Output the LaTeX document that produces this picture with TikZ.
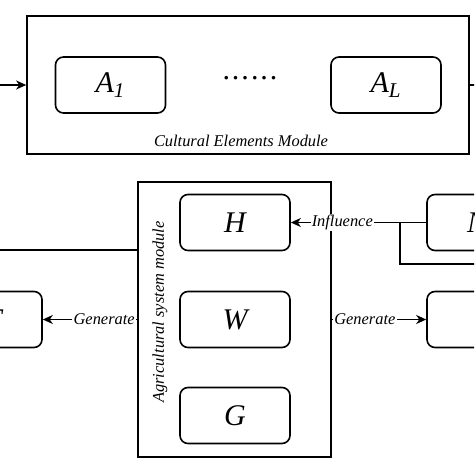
\documentclass[tikz,border=0pt]{standalone}
\usepackage{fontspec}
\setmainfont{Liberation Serif}
\usetikzlibrary{arrows.meta}

\begin{document}
\begin{tikzpicture}[x=0.5pt,y=-0.5pt,line width=0.8pt,
  modbox/.style={draw,rectangle,inner sep=0pt},
  elembox/.style={draw,rounded corners=4pt,minimum width=55pt,minimum height=28pt,inner sep=0pt,font=\fontsize{15}{18}\selectfont\itshape},
  lbl/.style={fill=white,inner sep=0.6pt,font=\fontsize{8.2}{10}\selectfont\itshape},
  modlabel/.style={inner sep=0pt,font=\fontsize{8.2}{10}\selectfont\itshape},
  arr/.style={-{Stealth[length=5pt,width=4.5pt,inset=1.5pt]}}]
    \path[use as bounding box,clip] (0,0) rectangle (474,474);
    % cultural elements module
    \node[modbox,minimum width=221pt,minimum height=69pt] (cem) at (248,85) {};
    \node[elembox] (a1) at (110.5,85) {A\textsubscript{1}};
    \node[elembox] (al) at (386,85) {A\textsubscript{L}};
    \node[anchor=base,inner sep=0pt,font=\fontsize{15}{18}\selectfont] (dots) at (250,80) {.\kern1pt.\kern1pt.\kern1pt.\kern1pt.\kern1pt.};
    \node[modlabel] (cemlabel) at (241,141) {Cultural Elements Module};
    \coordinate (in) at (-10,85);
    \coordinate (out) at (490,85);
    \draw[arr] (in) -- (cem.west);
    \draw (cem.east) -- (out);
    % agricultural system module
    \node[modbox,minimum width=96.5pt,minimum height=137.5pt] (agri) at (234.5,319.5) {};
    \node[elembox] (h) at (235,222.5) {H};
    \node[elembox] (w) at (235,319.5) {W};
    \node[elembox] (g) at (235,415.5) {G};
    \node[modlabel,rotate=90] (agrilabel) at (160,312) {Agricultural system module};
    \coordinate (lin) at (-10,250);
    \draw (lin) -- (lin -| agri.west);
    % outer boxes
    \node[elembox,minimum width=48pt] (f) at (-6,319.5) {F};
    \node[elembox,minimum width=50pt] (n) at (477,222.5) {N};
    \node[elembox,minimum width=50pt] (r) at (477,319.5) {};
    \draw[arr] (agri.west) -- node[lbl,pos=0.35] {Generate} (f.east);
    \draw[arr] (agri.east) -- node[lbl,pos=0.35] {Generate} (r.west);
    \draw[arr] (n.west) -- node[lbl,pos=0.62] {Influence} (h.east);
    \coordinate (split) at (400,222.5);
    \coordinate (branch) at (490,264);
    \draw (split) |- (branch);
\end{tikzpicture}
\end{document}
